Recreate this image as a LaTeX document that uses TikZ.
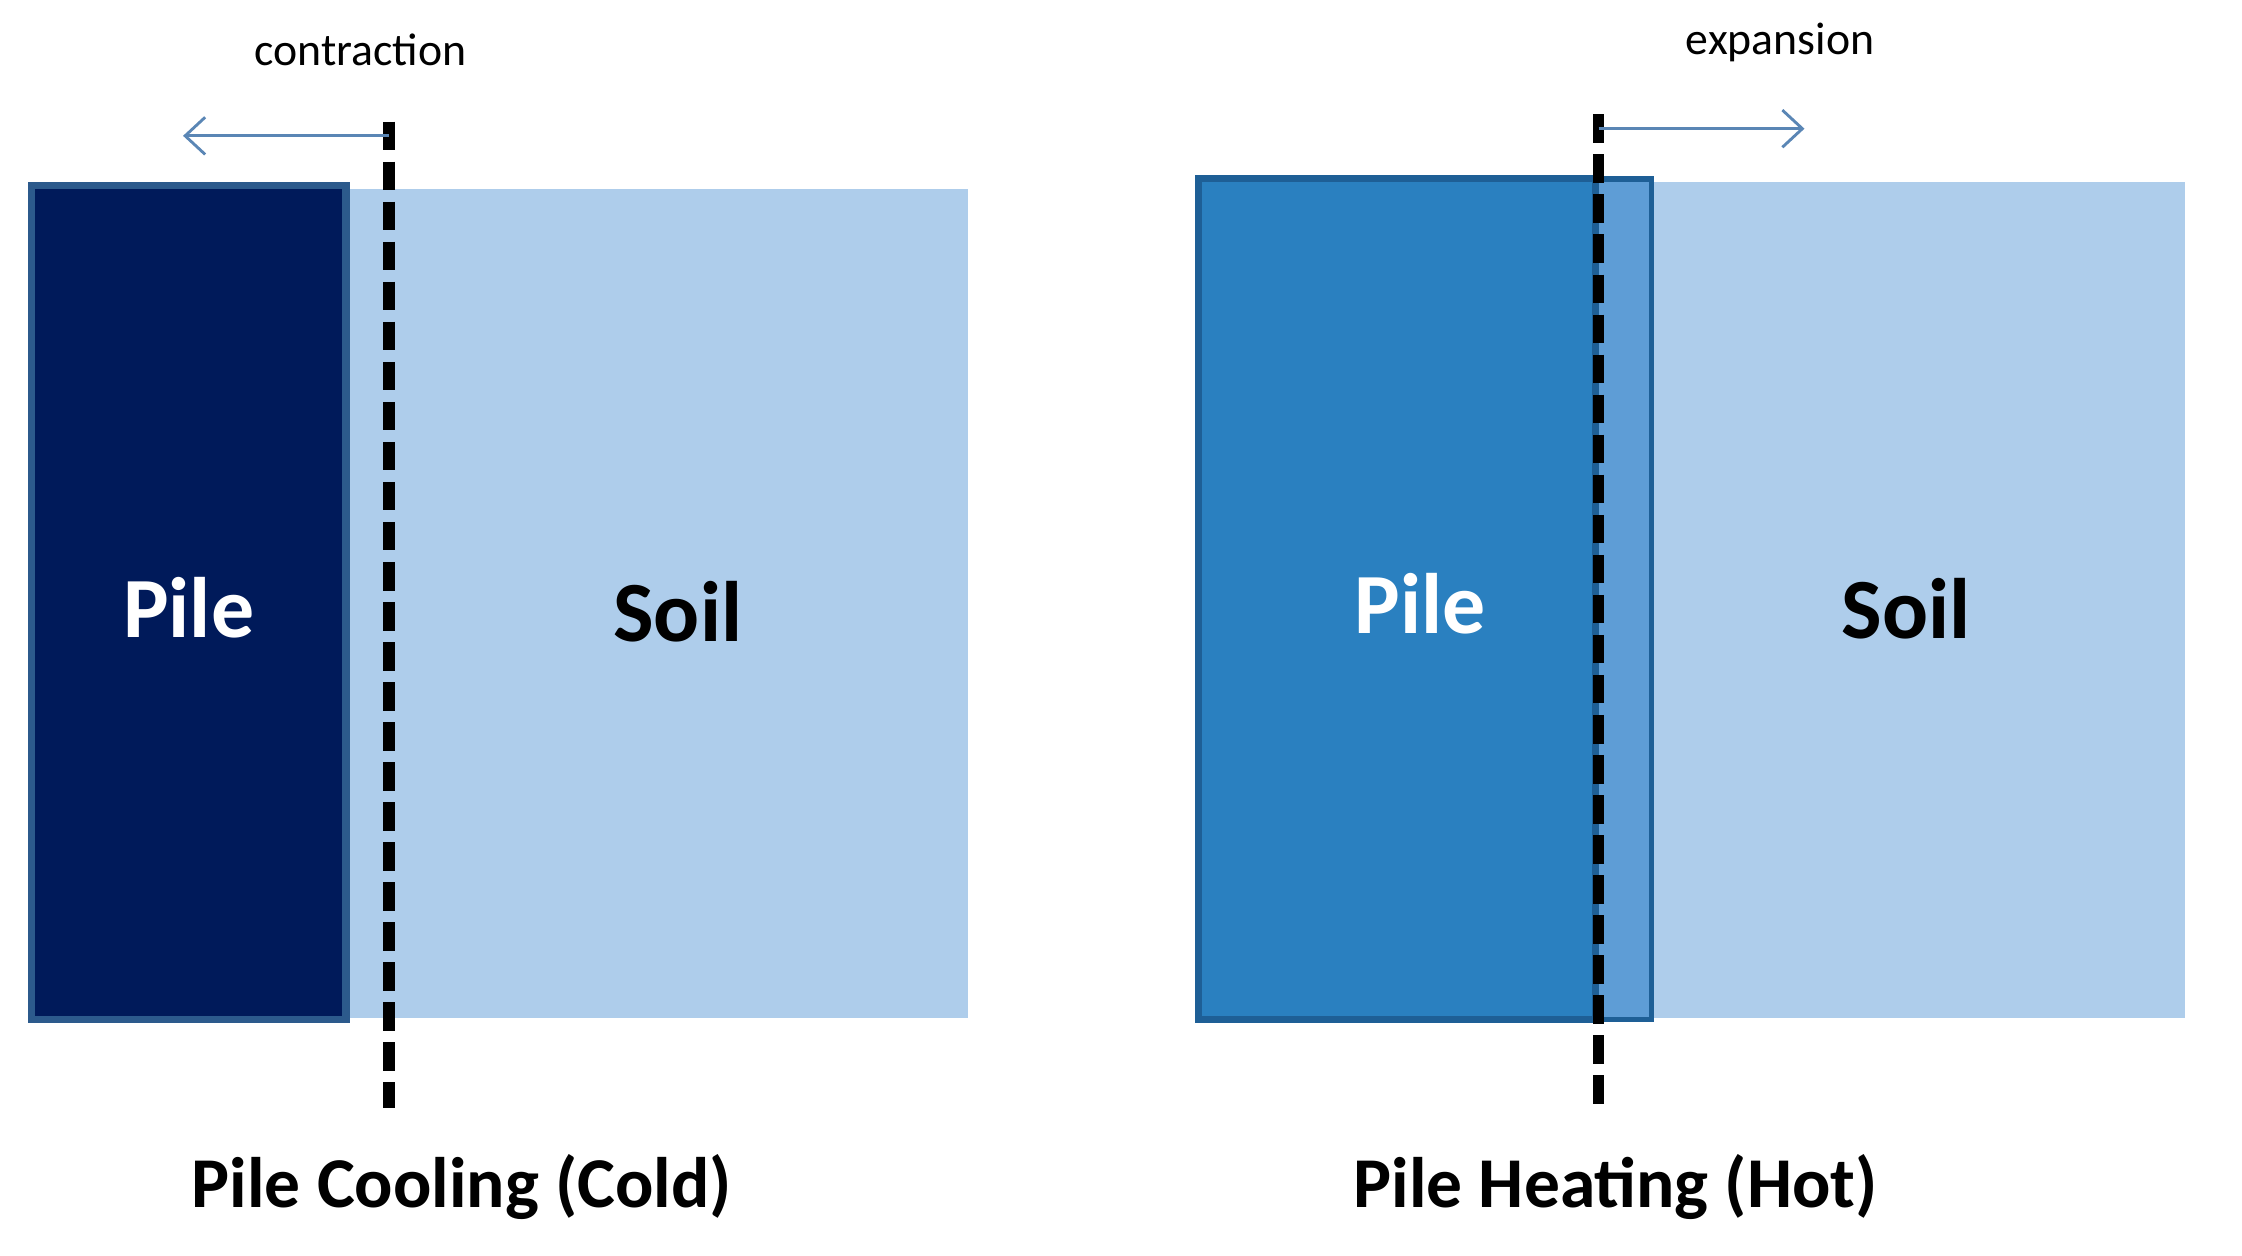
\documentclass[tikz,border=0pt]{standalone}
\usepackage{fontspec}
\setmainfont{Carlito}
\usetikzlibrary{arrows.meta}
\definecolor{soil}{HTML}{AECDEB}
\definecolor{coldpile}{HTML}{001A5A}
\definecolor{coldedge}{HTML}{2C5A8C}
\definecolor{hotpile}{HTML}{2A80C0}
\definecolor{hotedge}{HTML}{1E5F96}
\definecolor{overlap}{HTML}{5E9DD6}
\definecolor{arr}{HTML}{5A86B5}
\tikzset{
  dashln/.style={line width=8pt, dash pattern=on 20pt off 8pt},
  movearr/.style={draw=arr, line width=2pt, -{Straight Barb[length=14pt,width=26pt]}},
  big/.style={font=\fontsize{60}{70}\selectfont\bfseries},
  captxt/.style={font=\fontsize{50}{60}\selectfont\bfseries},
  small/.style={font=\fontsize{32}{38}\selectfont}
}
\begin{document}
\begin{tikzpicture}[x=1pt,y=-1pt]
\useasboundingbox (0,0) rectangle (1568,878);
% left
\fill[soil] (244,132) rectangle (677,712);
\draw[fill=coldpile, draw=coldedge, line width=5pt] (22,130) rectangle (242,713);
\node[big, text=white] (p1) at (132,425) {Pile};
\node[big] (s1) at (474,428) {Soil};
\coordinate (d1t) at (272,85); \coordinate (d1b) at (272,775);
\draw[dashln] (d1t) -- (d1b);
\coordinate (a1s) at (272,95); \coordinate (a1e) at (128,95);
\draw[movearr] (a1s) -- (a1e);
\node[small] (c1) at (252,35) {contraction};
\node[captxt] (l1) at (323,830) {Pile Cooling (Cold)};
% right
\fill[soil] (1157,127) rectangle (1528,712);
\fill[overlap] (1116,124) rectangle (1157,715);
\draw[fill=hotpile, draw=hotedge, line width=5pt] (838,125) rectangle (1116,713);
\draw[hotedge, line width=4pt] (1116,125) -- (1155,125) -- (1155,713) -- (1116,713);
\node[big, text=white] (p2) at (993,422) {Pile};
\node[big] (s2) at (1333,426) {Soil};
\coordinate (d2t) at (1118,80); \coordinate (d2b) at (1118,775);
\draw[dashln] (d2t) -- (d2b);
\coordinate (a2s) at (1118,90); \coordinate (a2e) at (1262,90);
\draw[movearr] (a2s) -- (a2e);
\node[small] (c2) at (1245,30) {expansion};
\node[captxt] (l2) at (1130,830) {Pile Heating (Hot)};
\end{tikzpicture}
\end{document}
